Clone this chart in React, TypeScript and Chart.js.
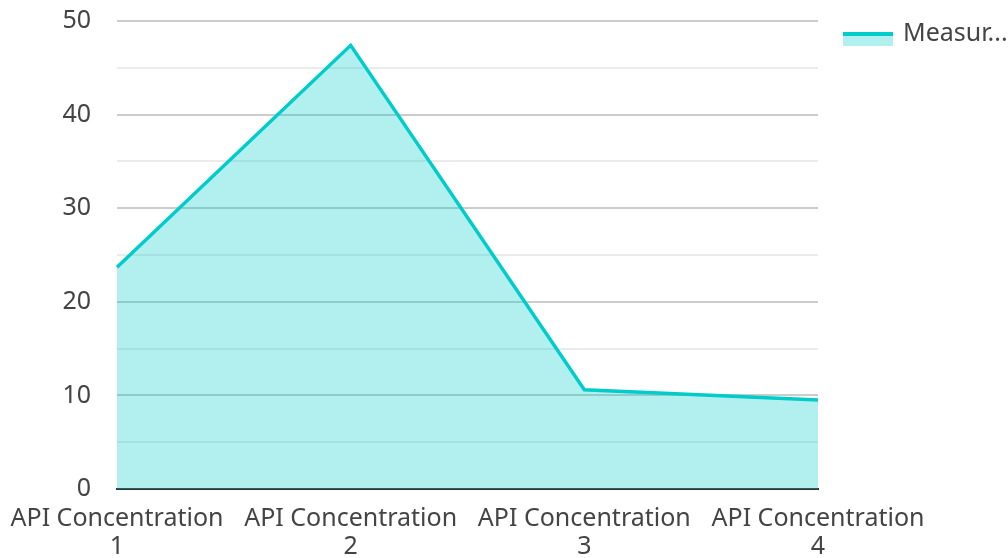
import React, { useEffect, useRef } from "react";
import { Chart, registerables } from "chart.js";

Chart.register(...registerables);

const categories: string[][] = [
  ["API Concentration", "1"],
  ["API Concentration", "2"],
  ["API Concentration", "3"],
  ["API Concentration", "4"],
];
const seriesLabel = "Measured Value";
const seriesValues: number[] = [23.7, 47.4, 10.6, 9.5];
const yTicks: number[] = [0, 10, 20, 30, 40, 50];

const LINE = "rgb(0, 204, 204)";
const FILL = "rgba(0, 204, 204, 0.3)";
const FONT = "'Noto Sans', 'Open Sans', sans-serif";
const TEXT = "#444";

const legendPlugin = {
  id: "customLegend",
  afterDraw(chart: any) {
    const ctx = chart.ctx as CanvasRenderingContext2D;
    const ds = chart.data.datasets[0];
    const x = chart.chartArea.right + 25;
    const y = 32;
    ctx.save();
    ctx.fillStyle = ds.backgroundColor;
    ctx.fillRect(x, y, 50, 14);
    ctx.fillStyle = ds.borderColor;
    ctx.fillRect(x, y, 50, 4);
    ctx.font = `25px ${FONT}`;
    ctx.fillStyle = TEXT;
    ctx.textBaseline = "middle";
    const tx = x + 60;
    const maxW = 110;
    let label: string = ds.label;
    if (ctx.measureText(label).width > maxW) {
      while (label.length > 0 && ctx.measureText(label + "...").width > maxW) {
        label = label.slice(0, -1);
      }
      label = label + "...";
    }
    ctx.fillText(label, tx, 34);
    ctx.restore();
  },
};

export default function App() {
  const ref = useRef<HTMLCanvasElement>(null);
  useEffect(() => {
    if (!ref.current) return;
    const chart = new Chart(ref.current, {
      type: "line",
      data: {
        labels: categories,
        datasets: [
          {
            label: seriesLabel,
            data: seriesValues,
            borderColor: LINE,
            backgroundColor: FILL,
            borderWidth: 3.5,
            fill: "origin",
            pointRadius: 0,
            tension: 0,
          },
        ],
      },
      options: {
        animation: false,
        responsive: true,
        maintainAspectRatio: false,
        layout: { padding: { left: 0, right: 190, top: 21, bottom: 0 } },
        plugins: { legend: { display: false }, tooltip: { enabled: false } },
        scales: {
          x: {
            offset: false,
            grid: { display: false },
            border: { display: true, color: "#333", width: 2 },
            ticks: {
              color: TEXT,
              font: { family: FONT, size: 25, lineHeight: 1.15 },
              maxRotation: 0,
              autoSkip: false,
              padding: 7,
            },
            afterFit: (scale: any) => {
              scale.height = 69;
            },
          },
          y: {
            min: 0,
            max: 50,
            border: { display: false },
            grid: {
              color: (c: any) =>
                c.tick && c.tick.value === 0
                  ? "#333"
                  : c.tick && c.tick.value % 10 === 0
                  ? "#ccc"
                  : "#ebebeb",
              lineWidth: 2,
              drawTicks: false,
            },
            ticks: {
              stepSize: 5,
              color: TEXT,
              padding: 26,
              font: { family: FONT, size: 25 },
              callback: (v: any) => (yTicks.includes(Number(v)) ? String(v) : ""),
            },
            afterFit: (scale: any) => {
              scale.width = 117;
              scale.paddingTop = 0;
              scale.paddingBottom = 0;
            },
          },
        },
      },
      plugins: [legendPlugin],
    });
    return () => chart.destroy();
  }, []);
  return (
    <div style={{ position: "absolute", left: 0, top: 0, width: 1008, height: 558 }}>
      <canvas ref={ref} />
    </div>
  );
}
